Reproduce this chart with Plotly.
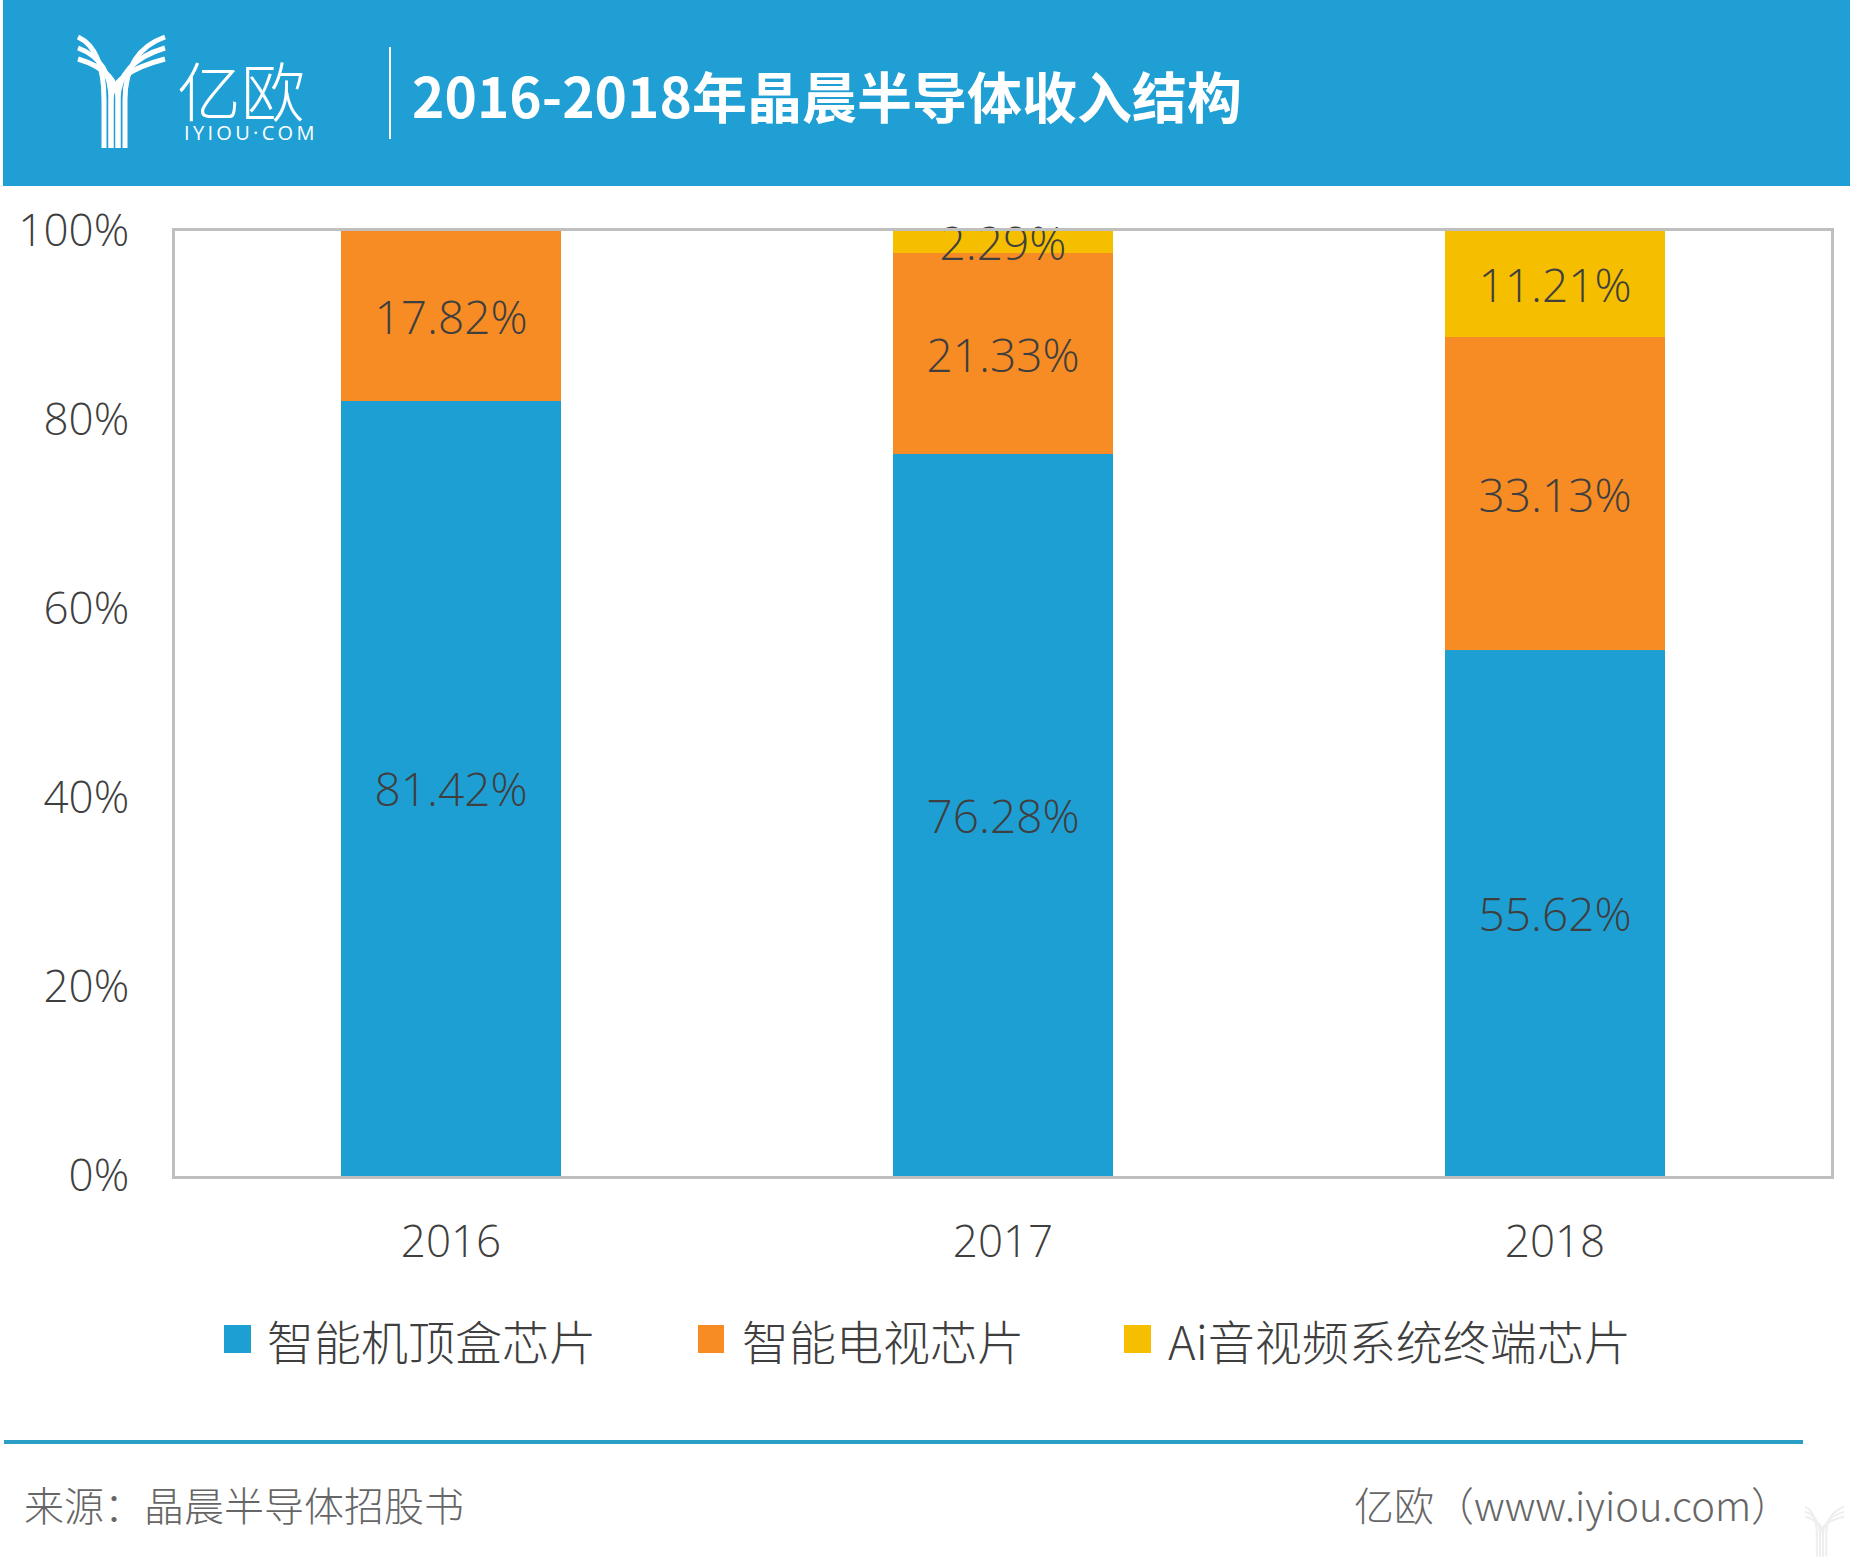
import plotly.graph_objects as go

# ---- data ----
years = ["2016", "2017", "2018"]
series_names = ["智能机顶盒芯片", "智能电视芯片", "Ai音视频系统终端芯片"]
stb_chip = [81.42, 76.28, 55.62]
tv_chip = [17.82, 21.33, 33.13]
ai_chip = [0.0, 2.29, 11.21]
y_ticks = [0, 20, 40, 60, 80, 100]
title_text = "2016-2018年晶晨半导体收入结构"
source_text = "来源：晶晨半导体招股书"
brand_text = "亿欧（www.iyiou.com）"

colors = ["#1E9FD4", "#F78C24", "#F5BF00"]

W, H = 1850, 1562


def px(x):
    return x / W


def py(y):
    return 1 - y / H


NUM_FONT = "Open Sans, Noto Sans, sans-serif"
LABEL_FONT = dict(family=NUM_FONT, size=46, color="#3F3F3F", weight=300)
CJK = "Noto Sans CJK SC, Noto Sans, sans-serif"

fig = go.Figure()
for name, vals, col in zip(series_names, [stb_chip, tv_chip, ai_chip], colors):
    fig.add_trace(go.Bar(
        x=years, y=vals, name=name,
        marker=dict(color=col, line=dict(width=0)),
        text=[f"{v:.2f}%" if v > 0 else "" for v in vals],
        textposition="inside", insidetextanchor="middle",
        constraintext="none",
        textfont=LABEL_FONT,
        cliponaxis=False,
        showlegend=False,
    ))

fig.update_layout(
    width=W, height=H, autosize=False,
    margin=dict(l=0, r=0, t=0, b=0, autoexpand=False),
    paper_bgcolor="white", plot_bgcolor="white",
    barmode="stack", barnorm="percent", bargap=0.6,
    xaxis=dict(
        domain=[px(175), px(1831)], type="category", range=[-0.5, 2.5],
        automargin=False,
        showline=True, linecolor="#BFBFBF", linewidth=3, mirror=True,
        showgrid=False, ticks="", ticklabelstandoff=25,
        tickfont=dict(family=NUM_FONT, size=44, color="#3F3F3F", weight=300),
    ),
    yaxis=dict(
        domain=[py(1176), py(231)], range=[0, 100],
        automargin=False,
        tickvals=y_ticks, ticktext=[f"{v}%" for v in y_ticks],
        showline=True, linecolor="#BFBFBF", linewidth=3, mirror=True,
        showgrid=False, zeroline=False, ticks="", ticklabelstandoff=34,
        tickfont=dict(family=NUM_FONT, size=44, color="#3F3F3F", weight=300),
    ),
)

shapes = []
# header band
shapes.append(dict(type="rect", xref="paper", yref="paper", x0=px(3), x1=1, y0=py(186), y1=1,
                   fillcolor="#1F9FD4", line=dict(width=0), layer="below"))
# divider in header
shapes.append(dict(type="line", xref="paper", yref="paper", x0=px(390), x1=px(390), y0=py(47), y1=py(139),
                   line=dict(color="white", width=2)))


def add_logo(ox, oy, s, color, width):
    left_stems = [104, 111, 118]
    right_stems = [125, 118, 111]
    for i in range(3):
        xs = left_stems[i]
        sy = 37 + 11 * i
        p = (f"M {px(ox + s * 78)},{py(oy + s * sy)} Q {px(ox + s * xs)},{py(oy + s * (sy + 12))} "
             f"{px(ox + s * xs)},{py(oy + s * 100)} L {px(ox + s * xs)},{py(oy + s * 148)}")
        shapes.append(dict(type="path", xref="paper", yref="paper", path=p,
                           line=dict(color=color, width=width)))
    for j in range(3):
        xs = right_stems[j]
        sy = 37 + 11 * j
        p = (f"M {px(ox + s * 165)},{py(oy + s * sy)} Q {px(ox + s * xs)},{py(oy + s * (sy + 14))} "
             f"{px(ox + s * xs)},{py(oy + s * 100)} L {px(ox + s * xs)},{py(oy + s * 148)}")
        shapes.append(dict(type="path", xref="paper", yref="paper", path=p,
                           line=dict(color=color, width=width)))


add_logo(0, 0, 1.0, "white", 5)
# faint watermark at bottom right
add_logo(1770, 1490, 0.45, "#EEEEEE", 2)

# legend squares
legend_sq = [(224, 251), (698, 724), (1124, 1151)]
for (x0, x1), col in zip(legend_sq, colors):
    shapes.append(dict(type="rect", xref="paper", yref="paper", x0=px(x0), x1=px(x1), y0=py(1353), y1=py(1325),
                       fillcolor=col, line=dict(width=0)))
# footer line
shapes.append(dict(type="line", xref="paper", yref="paper", x0=px(4), x1=px(1803), y0=py(1442), y1=py(1442),
                   line=dict(color="#2A9EC4", width=4)))
fig.update_layout(shapes=shapes)

ann = []
ann.append(dict(text=f"<b>{title_text}</b>", x=px(410), y=py(94), xref="paper", yref="paper",
                xanchor="left", yanchor="middle", showarrow=False,
                font=dict(family=CJK, size=55, color="white", weight=900)))
ann.append(dict(text="亿欧", x=px(175), y=py(88), xref="paper", yref="paper",
                xanchor="left", yanchor="middle", showarrow=False,
                font=dict(family=CJK, size=64, color="white", weight=300)))
ann.append(dict(text="\u2009".join("IYIOU·COM"), x=px(182), y=py(132), xref="paper", yref="paper",
                xanchor="left", yanchor="middle", showarrow=False,
                font=dict(family="Open Sans, sans-serif", size=20, color="white")))
legend_tx = [265, 740, 1166]
for x, name in zip(legend_tx, series_names):
    ann.append(dict(text=name, x=px(x), y=py(1339), xref="paper", yref="paper",
                    xanchor="left", yanchor="middle", showarrow=False,
                    font=dict(family=CJK, size=47, color="#3F3F3F", weight=300)))
ann.append(dict(text=source_text, x=px(22), y=py(1504), xref="paper", yref="paper",
                xanchor="left", yanchor="middle", showarrow=False,
                font=dict(family=CJK, size=40, color="#666666", weight=300)))
ann.append(dict(text=brand_text, x=px(1793), y=py(1504), xref="paper", yref="paper",
                xanchor="right", yanchor="middle", showarrow=False,
                font=dict(family=CJK, size=40, color="#666666", weight=300)))
fig.update_layout(annotations=ann)

fig.write_html("out.html")
